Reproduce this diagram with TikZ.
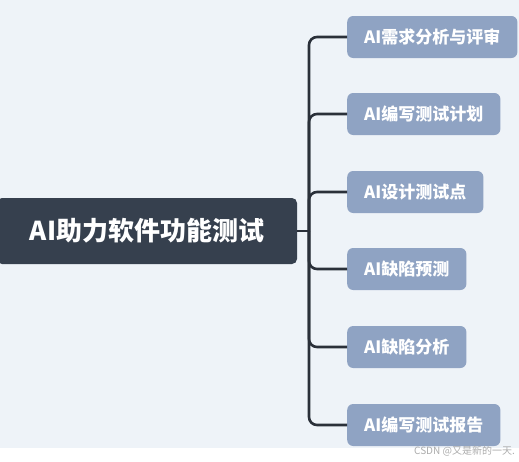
\documentclass[tikz,border=0pt]{standalone}
\usepackage{fontspec}
\setmainfont{Noto Sans CJK SC}
\definecolor{bgc}{HTML}{EEF3F8}
\definecolor{rootc}{HTML}{36404E}
\definecolor{kidc}{HTML}{8FA3C3}
\definecolor{linec}{HTML}{2A3039}
\tikzset{
  rootbox/.style={fill=rootc, rounded corners=5pt, minimum width=300pt, minimum height=66pt,
    text=white, inner sep=0pt, font=\bfseries\fontsize{26}{26}\selectfont},
  kidbox/.style={fill=kidc, rounded corners=6pt, anchor=west, minimum height=42pt,
    inner xsep=17pt, inner ysep=0pt, text=white, font=\bfseries\fontsize{17}{17}\selectfont},
  conn/.style={draw=linec, line width=2.6pt, rounded corners=8pt},
}
\begin{document}
\begin{tikzpicture}[x=1pt,y=-1pt]
\useasboundingbox (0,0) rectangle (519,461);
\clip (0,0) rectangle (519,461);
\fill[bgc] (0,0) rectangle (519,448);
\fill[white] (0,448) rectangle (519,461);
\node[rootbox] (root) at (147,231) {AI助力软件功能测试};
\coordinate (j) at (309,231);
\node[kidbox] (k1) at (347,37) {AI需求分析与评审};
\node[kidbox] (k2) at (347,114) {AI编写测试计划};
\node[kidbox] (k3) at (347,192) {AI设计测试点};
\node[kidbox] (k4) at (347,269) {AI缺陷预测};
\node[kidbox] (k5) at (347,347) {AI缺陷分析};
\node[kidbox] (k6) at (347,425) {AI编写测试报告};
\draw[conn] (root.east) -- (j);
\foreach \k in {k1,k2,k3,k4,k5,k6} {
  \draw[conn] (j) |- (\k.west);
}
\node[anchor=base east, text=gray!65, inner sep=0pt, font=\fontsize{10}{10}\selectfont] (wm) at (515,454) {CSDN @又是新的一天.};
\end{tikzpicture}
\end{document}
